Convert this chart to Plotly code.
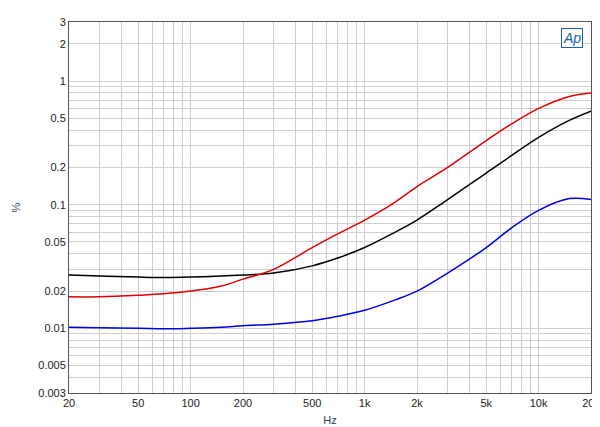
import plotly.graph_objects as go

# Frequency points (Hz)
freq = [20, 30, 50, 70, 100, 150, 200, 300, 500, 700, 1000, 1500, 2000, 3000,
        5000, 7000, 10000, 15000, 20000]

# THD+N (%) per channel
black = [0.027, 0.0265, 0.026, 0.0258, 0.026, 0.0265, 0.027, 0.028, 0.032, 0.037,
         0.045, 0.06, 0.075, 0.11, 0.18, 0.25, 0.35, 0.48, 0.57]
red = [0.018, 0.018, 0.0185, 0.019, 0.02, 0.022, 0.025, 0.03, 0.045, 0.058,
       0.075, 0.105, 0.14, 0.2, 0.33, 0.45, 0.6, 0.75, 0.8]
blue = [0.0102, 0.0101, 0.0100, 0.0099, 0.0100, 0.0102, 0.0105, 0.0108, 0.0115, 0.0125,
        0.014, 0.017, 0.02, 0.028, 0.045, 0.065, 0.09, 0.112, 0.11]

x_labels = {20: '20', 50: '50', 100: '100', 200: '200', 500: '500', 1000: '1k',
            2000: '2k', 5000: '5k', 10000: '10k', 20000: '20k'}
y_labels = {0.003: '0.003', 0.005: '0.005', 0.01: '0.01', 0.02: '0.02', 0.05: '0.05',
            0.1: '0.1', 0.2: '0.2', 0.5: '0.5', 1: '1', 2: '2', 3: '3'}

# grid lines at every 1..9 step in each decade
x_grid = [m * 10 ** d for d in range(1, 5) for m in range(1, 10)
          if 20 <= m * 10 ** d <= 20000]
y_grid = [round(m * 10.0 ** d, 6) for d in range(-3, 1) for m in range(1, 10)
          if 0.003 <= m * 10.0 ** d <= 3]

fig = go.Figure()
for ys, col in [(black, 'black'), (red, '#e00000'), (blue, '#0000dd')]:
    fig.add_trace(go.Scatter(x=freq, y=ys, mode='lines',
                             line=dict(color=col, width=1.5, shape='spline')))

axis_common = dict(type='log', showline=True, linecolor='#555', mirror=True,
                   gridcolor='#cfcfcf', gridwidth=1, ticks='', zeroline=False,
                   tickfont=dict(size=11, color='#222'))

fig.update_xaxes(range=[1.30103, 4.30103], tickvals=x_grid,
                 ticktext=[x_labels.get(v, '') for v in x_grid],
                 title=dict(text='Hz', font=dict(size=11), standoff=8), **axis_common)
fig.update_yaxes(range=[-2.5229, 0.4771], tickvals=y_grid,
                 ticktext=[y_labels.get(v, '') for v in y_grid],
                 title=dict(text='%', font=dict(size=11)), **axis_common)

fig.add_annotation(x=0.985, y=0.985, xref='paper', yref='paper', xanchor='right',
                   yanchor='top', text='<i>Ap</i>', showarrow=False,
                   font=dict(size=14, color='#1a5fb4'),
                   bordercolor='#1a5fb4', borderwidth=1, borderpad=1, bgcolor='white')

fig.update_layout(width=600, height=427, showlegend=False,
                  plot_bgcolor='white', paper_bgcolor='white',
                  font=dict(family='Arial, Liberation Sans, sans-serif'),
                  margin=dict(l=57, r=14, t=8, b=42))

fig.write_html("out.html")
